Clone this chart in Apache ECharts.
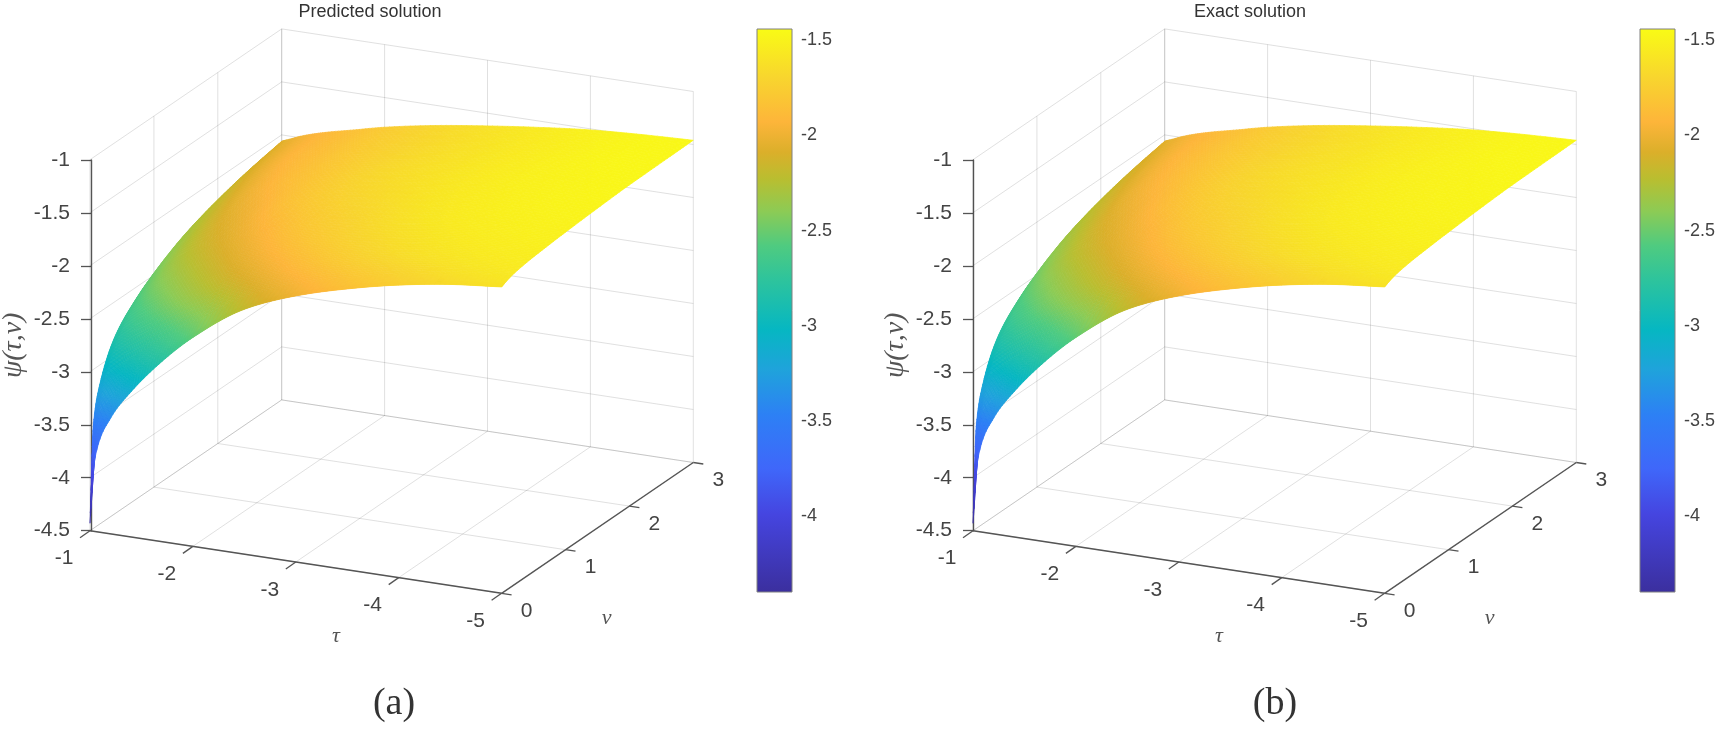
<!DOCTYPE html>
<html>
<head>
<meta charset="utf-8">
<title>Predicted and exact solution</title>
<script src="https://cdn.jsdelivr.net/npm/echarts@6/dist/echarts.min.js"></script>
<style>
	html, body { margin: 0; padding: 0; background: #fff; }
	#chart { width: 1720px; height: 731px; }
</style>
</head>
<body>
<div id="chart"></div>
<script>
// values
const tauTicks = [-1, -2, -3, -4, -5];
const nuTicks = [0, 1, 2, 3];
const psiTicks = [-4.5, -4, -3.5, -3, -2.5, -2, -1.5, -1];
const barTicks = [-4, -3.5, -3, -2.5, -2, -1.5];
const barMin = -4.40;
const barMax = -1.44;

// colormap of the colorbar
const stopValues = [-4.40, -3.99, -3.75, -3.47, -3.23, -3.02, -2.75, -2.58, -2.40, -2.23, -2.09, -1.93, -1.70, -1.44];
const stopColors = ['#3b2f9e', '#4545e0', '#3f67fa', '#2d80f5', '#1fa3db', '#06b7c2', '#2fc49b', '#4fcb80', '#8ccb55', '#b9be30', '#dbaf2a', '#fdb53a', '#f8d52e', '#f9fb15'];

// surface grid
const tauGrid = [-1, -1.05, -1.2, -1.4, -1.7, -2, -2.5, -3, -3.5, -4, -4.5, -5];
const nuGrid = [0, 0.05, 0.15, 0.4, 0.7, 1, 1.5, 2, 2.5, 3];

// one row per nu, one column per tau
const psiPredicted = [
	[-4.43, -3.80, -3.41, -3.13, -2.80, -2.53, -2.19, -1.99, -1.85, -1.74, -1.66, -1.61],
	[-3.54, -3.42, -3.22, -3.00, -2.72, -2.49, -2.16, -1.97, -1.83, -1.73, -1.65, -1.595],
	[-3.19, -3.12, -2.98, -2.82, -2.60, -2.41, -2.11, -1.93, -1.80, -1.70, -1.62, -1.57],
	[-2.82, -2.78, -2.66, -2.52, -2.34, -2.19, -1.98, -1.82, -1.70, -1.62, -1.57, -1.54],
	[-2.62, -2.57, -2.45, -2.33, -2.18, -2.05, -1.87, -1.74, -1.65, -1.58, -1.54, -1.52],
	[-2.48, -2.44, -2.32, -2.20, -2.07, -1.96, -1.80, -1.70, -1.61, -1.55, -1.52, -1.505],
	[-2.31, -2.28, -2.18, -2.07, -1.96, -1.85, -1.73, -1.65, -1.58, -1.53, -1.50, -1.485],
	[-2.20, -2.17, -2.08, -1.98, -1.88, -1.81, -1.70, -1.63, -1.57, -1.52, -1.49, -1.47],
	[-2.12, -2.09, -2.01, -1.93, -1.86, -1.79, -1.70, -1.63, -1.57, -1.52, -1.48, -1.465],
	[-2.06, -2.04, -1.98, -1.92, -1.85, -1.78, -1.69, -1.62, -1.56, -1.51, -1.48, -1.46]
];
const psiExact = [
	[-4.43, -3.80, -3.41, -3.13, -2.80, -2.53, -2.19, -1.99, -1.85, -1.74, -1.66, -1.61],
	[-3.54, -3.42, -3.22, -3.00, -2.72, -2.49, -2.16, -1.97, -1.83, -1.73, -1.65, -1.595],
	[-3.19, -3.12, -2.98, -2.82, -2.60, -2.41, -2.11, -1.93, -1.80, -1.70, -1.62, -1.57],
	[-2.82, -2.78, -2.66, -2.52, -2.35, -2.20, -1.98, -1.82, -1.70, -1.62, -1.57, -1.54],
	[-2.62, -2.57, -2.46, -2.34, -2.19, -2.06, -1.87, -1.74, -1.65, -1.58, -1.54, -1.52],
	[-2.48, -2.44, -2.33, -2.21, -2.08, -1.97, -1.80, -1.70, -1.61, -1.55, -1.52, -1.505],
	[-2.31, -2.28, -2.19, -2.08, -1.97, -1.86, -1.73, -1.65, -1.58, -1.53, -1.50, -1.485],
	[-2.20, -2.17, -2.09, -1.99, -1.89, -1.81, -1.70, -1.63, -1.57, -1.52, -1.49, -1.47],
	[-2.12, -2.10, -2.02, -1.94, -1.86, -1.79, -1.70, -1.63, -1.57, -1.52, -1.48, -1.465],
	[-2.06, -2.04, -1.98, -1.92, -1.85, -1.78, -1.69, -1.62, -1.56, -1.51, -1.48, -1.46]
];

const rightPanelShift = 883;
const SANS = '"Liberation Sans", Arial, sans-serif';
const SERIF = '"Liberation Serif", serif';
const LABEL_FONT = '21px ' + SANS;
const MATH_FONT = 'italic 22px ' + SERIF;
const TEXT_COLOR = '#444';
const AXIS_COLOR = '#555';
const GRID_COLOR = 'rgba(38,38,38,0.14)';
const SHADE_STEPS = 10;

// The 3D box is an orthographic view, so it is a linear map onto the hidden plane axes
function project(api, shift, tau, nu, psi) {
	const t = -1 - tau;
	return api.coord([
		90 + shift + 102.9 * t + 63.9 * nu,
		530.7 + 15.65 * t - 43.6 * nu - 106 * (psi + 4.5)
	]);
}

function hexToRgb(hex) {
	return [1, 3, 5].map(i => parseInt(hex.substr(i, 2), 16));
}
const stopRgb = stopColors.map(hexToRgb);

function colorOf(v) {
	if (v <= stopValues[0]) return stopColors[0];
	for (let i = 1; i < stopValues.length; i++) {
		if (v <= stopValues[i]) {
			const f = (v - stopValues[i - 1]) / (stopValues[i] - stopValues[i - 1]);
			const c = stopRgb[i - 1].map((a, k) => Math.round(a + (stopRgb[i][k] - a) * f));
			return 'rgb(' + c.join(',') + ')';
		}
	}
	return stopColors[stopColors.length - 1];
}

function lineSeries(data, shift, stroke, width, z) {
	return {
		type: 'custom',
		coordinateSystem: 'cartesian2d',
		xAxisIndex: 0,
		yAxisIndex: 0,
		silent: true,
		clip: false,
		z: z,
		data: data,
		renderItem: function(params, api) {
			const a = project(api, shift, api.value(0), api.value(1), api.value(2));
			const b = project(api, shift, api.value(3), api.value(4), api.value(5));
			return {
				type: 'line',
				shape: { x1: a[0], y1: a[1], x2: b[0], y2: b[1] },
				style: { stroke: stroke, lineWidth: width }
			};
		}
	};
}

function wallLines() {
	const lines = [];
	tauTicks.forEach(tau => {
		lines.push([tau, 0, -4.5, tau, 3, -4.5]);
		lines.push([tau, 3, -4.5, tau, 3, -1]);
	});
	nuTicks.forEach(nu => {
		lines.push([-1, nu, -4.5, -5, nu, -4.5]);
		lines.push([-1, nu, -4.5, -1, nu, -1]);
	});
	psiTicks.forEach(psi => {
		lines.push([-1, 0, psi, -1, 3, psi]);
		lines.push([-1, 3, psi, -5, 3, psi]);
	});
	return lines;
}

// monotone slopes along one grid line, so the drawn surface has no kinks or overshoot
function monotoneSlopes(xs, ys) {
	const n = xs.length;
	const h = [], d = [], m = [];
	for (let i = 0; i < n - 1; i++) {
		h.push(xs[i + 1] - xs[i]);
		d.push((ys[i + 1] - ys[i]) / h[i]);
	}
	m[0] = d[0];
	m[n - 1] = d[n - 2];
	for (let i = 1; i < n - 1; i++) {
		if (d[i - 1] * d[i] <= 0) {
			m[i] = 0;
		} else {
			const w1 = 2 * h[i] + h[i - 1];
			const w2 = h[i] + 2 * h[i - 1];
			m[i] = (w1 + w2) / (w1 / d[i - 1] + w2 / d[i]);
		}
	}
	return m;
}

function hermite(p0, m0, p1, m1, h, s) {
	const s2 = s * s, s3 = s2 * s;
	return (2 * s3 - 3 * s2 + 1) * p0 + (s3 - 2 * s2 + s) * h * m0 +
		(-2 * s3 + 3 * s2) * p1 + (s3 - s2) * h * m1;
}

// MATLAB "shading interp": each grid cell is shaded smoothly in small pieces at draw time
function surfaceSeries(psi, shift) {
	const alongTau = psi.map(row => monotoneSlopes(tauGrid, row));
	const alongNu = psi.map(() => []);
	tauGrid.forEach((tau, c) => {
		const col = monotoneSlopes(nuGrid, psi.map(row => row[c]));
		col.forEach((m, r) => { alongNu[r][c] = m; });
	});
	const cells = [];
	for (let j = nuGrid.length - 2; j >= 0; j--) {
		for (let i = 0; i < tauGrid.length - 1; i++) cells.push([i, j]);
	}
	return {
		type: 'custom',
		coordinateSystem: 'cartesian2d',
		xAxisIndex: 0,
		yAxisIndex: 0,
		silent: true,
		clip: false,
		z: 3,
		data: cells,
		renderItem: function(params, api) {
			const i = api.value(0);
			const j = api.value(1);
			const dTau = tauGrid[i + 1] - tauGrid[i];
			const dNu = nuGrid[j + 1] - nuGrid[j];
			const corner = function(u, v) {
				const tau = tauGrid[i] + dTau * u;
				const nu = nuGrid[j] + dNu * v;
				const w1 = 3 * u * u - 2 * u * u * u;
				const a = hermite(psi[j][i], alongTau[j][i], psi[j][i + 1], alongTau[j][i + 1], dTau, u);
				const b = hermite(psi[j + 1][i], alongTau[j + 1][i], psi[j + 1][i + 1], alongTau[j + 1][i + 1], dTau, u);
				const ma = alongNu[j][i] * (1 - w1) + alongNu[j][i + 1] * w1;
				const mb = alongNu[j + 1][i] * (1 - w1) + alongNu[j + 1][i + 1] * w1;
				const p = hermite(a, ma, b, mb, dNu, v);
				return { xy: project(api, shift, tau, nu, p), p: p };
			};
			const children = [];
			for (let a = SHADE_STEPS - 1; a >= 0; a--) {
				for (let b = 0; b < SHADE_STEPS; b++) {
					const u0 = b / SHADE_STEPS, u1 = (b + 1) / SHADE_STEPS;
					const v0 = a / SHADE_STEPS, v1 = (a + 1) / SHADE_STEPS;
					const q = [corner(u0, v0), corner(u1, v0), corner(u1, v1), corner(u0, v1)];
					const c = colorOf((q[0].p + q[1].p + q[2].p + q[3].p) / 4);
					children.push({
						type: 'polygon',
						shape: { points: q.map(o => o.xy) },
						style: { fill: c, stroke: c, lineWidth: 0.7 }
					});
				}
			}
			return { type: 'group', children: children };
		}
	};
}

// ticks and tick labels of the two floor axes
function tickSeries(values, shift, pointOf, tick, offset) {
	return {
		type: 'custom',
		coordinateSystem: 'cartesian2d',
		xAxisIndex: 0,
		yAxisIndex: 0,
		silent: true,
		clip: false,
		z: 5,
		data: values.map(v => [v]),
		renderItem: function(params, api) {
			const v = api.value(0);
			const p = pointOf(v);
			const a = project(api, shift, p[0], p[1], -4.5);
			return {
				type: 'group',
				children: [
					{
						type: 'line',
						shape: { x1: a[0], y1: a[1], x2: a[0] + tick[0], y2: a[1] + tick[1] },
						style: { stroke: AXIS_COLOR, lineWidth: 1.3 }
					},
					{
						type: 'text',
						style: {
							text: String(v),
							x: a[0] + offset[0],
							y: a[1] + offset[1],
							fill: TEXT_COLOR,
							font: LABEL_FONT,
							align: 'center',
							verticalAlign: 'middle'
						}
					}
				]
			};
		}
	};
}

function mathLabelSeries(text, tau, nu, offset, shift) {
	return {
		type: 'custom',
		coordinateSystem: 'cartesian2d',
		xAxisIndex: 0,
		yAxisIndex: 0,
		silent: true,
		clip: false,
		z: 5,
		data: [[tau, nu]],
		renderItem: function(params, api) {
			const a = project(api, shift, api.value(0), api.value(1), -4.5);
			return {
				type: 'text',
				style: {
					text: text,
					x: a[0] + offset[0],
					y: a[1] + offset[1],
					fill: '#555',
					font: MATH_FONT,
					align: 'center',
					verticalAlign: 'middle'
				}
			};
		}
	};
}

function colorbarSeries(axisIndex) {
	return {
		type: 'custom',
		coordinateSystem: 'cartesian2d',
		xAxisIndex: axisIndex,
		yAxisIndex: axisIndex,
		silent: true,
		z: 2,
		data: [[0, barMax, 1, barMin]],
		renderItem: function(params, api) {
			const a = api.coord([api.value(0), api.value(1)]);
			const b = api.coord([api.value(2), api.value(3)]);
			const colorStops = stopValues.map((v, i) => ({
				offset: (barMax - v) / (barMax - barMin),
				color: stopColors[i]
			})).reverse();
			return {
				type: 'rect',
				shape: { x: a[0], y: a[1], width: b[0] - a[0], height: b[1] - a[1] },
				style: { fill: new echarts.graphic.LinearGradient(0, 0, 0, 1, colorStops), stroke: '#808080', lineWidth: 1 }
			};
		}
	};
}

function panelSeries(psi, shift, barAxisIndex) {
	return [
		lineSeries(wallLines(), shift, GRID_COLOR, 1, 1),
		surfaceSeries(psi, shift),
		lineSeries([[-1, 0, -4.5, -5, 0, -4.5], [-5, 0, -4.5, -5, 3, -4.5]], shift, AXIS_COLOR, 1.4, 4),
		tickSeries(tauTicks, shift, v => [v, 0], [-10, 7], [-26, 28]),
		tickSeries(nuTicks, shift, v => [-5, v], [10, 1.5], [25, 18]),
		mathLabelSeries('τ', -3.4, 0, [-1, 68], shift),
		mathLabelSeries('ν', -5, 0.8, [54, 60], shift),
		colorbarSeries(barAxisIndex)
	];
}

function psiAxis(gridIndex) {
	return {
		type: 'value',
		gridIndex: gridIndex,
		min: -4.5,
		max: -1,
		interval: 0.5,
		name: 'ψ(τ,ν)',
		nameLocation: 'middle',
		nameGap: 63,
		nameRotate: 90,
		nameTextStyle: { color: '#555', fontFamily: SERIF, fontStyle: 'italic', fontSize: 28 },
		splitLine: { show: false },
		axisLine: { show: true, onZero: false, lineStyle: { color: AXIS_COLOR, width: 1.4 } },
		axisTick: { show: true, length: 10, lineStyle: { color: AXIS_COLOR, width: 1.3 } },
		axisLabel: { margin: 21, color: TEXT_COLOR, fontSize: 21, fontFamily: SANS }
	};
}

function barAxis(gridIndex) {
	return {
		type: 'value',
		gridIndex: gridIndex,
		position: 'right',
		min: barMin,
		max: barMax,
		splitLine: { show: false },
		axisLine: { show: false, onZero: false },
		axisTick: { show: false, customValues: barTicks },
		axisLabel: {
			margin: 9,
			color: TEXT_COLOR,
			fontSize: 18,
			fontFamily: SANS,
			customValues: barTicks,
			showMinLabel: true,
			showMaxLabel: true
		}
	};
}

function hiddenX(gridIndex) {
	return { type: 'value', gridIndex: gridIndex, min: 0, max: 1, show: false };
}

function caption(text, left, top, fontSize, family) {
	return {
		text: text,
		left: left,
		top: top,
		textAlign: 'center',
		textStyle: { color: '#333', fontWeight: 'normal', fontSize: fontSize, fontFamily: family }
	};
}

const chart = echarts.init(document.getElementById('chart'), null, { renderer: 'canvas' });

chart.setOption({
	animation: false,
	backgroundColor: '#fff',
	title: [
		caption('Predicted solution', 365, -2, 18, SANS),
		caption('Exact solution', 1245, -2, 18, SANS),
		caption('(a)', 389, 680, 38, SERIF),
		caption('(b)', 1270, 680, 38, SERIF)
	],
	grid: [
		{ left: 0, top: 0, width: 1720, height: 731 },
		{ left: 90, top: 160, width: 1, height: 370.7 },
		{ left: 757, top: 29, width: 35, height: 563 },
		{ left: 90 + rightPanelShift, top: 160, width: 1, height: 370.7 },
		{ left: 757 + rightPanelShift, top: 29, width: 35, height: 563 }
	],
	xAxis: [
		{ type: 'value', gridIndex: 0, min: 0, max: 1720, show: false },
		hiddenX(1),
		hiddenX(2),
		hiddenX(3),
		hiddenX(4)
	],
	yAxis: [
		{ type: 'value', gridIndex: 0, min: 0, max: 731, inverse: true, show: false },
		psiAxis(1),
		barAxis(2),
		psiAxis(3),
		barAxis(4)
	],
	series: panelSeries(psiPredicted, 0, 2).concat(panelSeries(psiExact, rightPanelShift, 4))
});
</script>
</body>
</html>
